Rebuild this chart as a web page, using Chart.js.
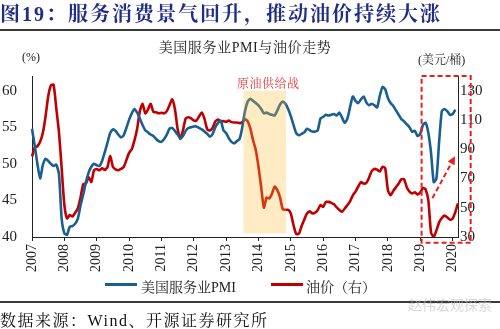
<!DOCTYPE html>
<html>
<head>
<meta charset="utf-8">
<script src="https://cdn.jsdelivr.net/npm/chart.js@4"></script>
<style>
  html, body { margin: 0; padding: 0; background: #fff; }
  #wrap { position: relative; width: 500px; height: 329px; overflow: hidden; }
  #chart { position: absolute; left: 0; top: 0; }
  .txt { position: absolute; white-space: nowrap; font-family: "Liberation Serif", "Noto Serif CJK SC", "Noto Sans CJK SC", serif; }
  #fig { left: 0; top: 2px; font-size: 20px; font-weight: bold; color: #1f2d86; line-height: 24px; letter-spacing: 2px; }
  .rule { position: absolute; left: 0; width: 500px; height: 2px; background: #3a3a3a; }
  #sub { left: 0; width: 490px; text-align: center; top: 36px; font-size: 14px; letter-spacing: 0.6px; color: #222; }
  #unitL { left: 22px; top: 50px; font-size: 12px; color: #222; }
  #unitR { left: 418px; top: 50px; font-size: 12px; color: #222; }
  #zone { left: 237px; top: 74px; font-size: 12px; color: #e8383d; letter-spacing: 0.5px; }
  .leg { top: 276px; font-size: 14px; color: #222; }
  .swatch { position: absolute; top: 283px; height: 3px; width: 32px; }
  #src { left: 0; top: 308px; font-size: 16px; letter-spacing: 1.5px; color: #111; }
  #mark { left: 408px; top: 294px; font-size: 14px; color: rgba(190,190,190,0.6); font-family: "Noto Sans CJK SC", sans-serif; }
</style>
</head>
<body>
<div id="wrap">
  <canvas id="chart" width="500" height="329"></canvas>
  <div class="txt" id="fig">图19：服务消费景气回升，推动油价持续大涨</div>
  <div class="rule" style="top:29px"></div>
  <div class="txt" id="sub">美国服务业PMI与油价走势</div>
  <div class="txt" id="unitL">(%)</div>
  <div class="txt" id="unitR">(美元/桶)</div>
  <div class="txt" id="zone">原油供给战</div>
  <div class="swatch" style="left:105px;background:#1a5f8f"></div>
  <div class="txt leg" style="left:141px">美国服务业PMI</div>
  <div class="swatch" style="left:271px;background:#c00000"></div>
  <div class="txt leg" style="left:306px">油价（右）</div>
  <div class="rule" style="top:301px"></div>
  <div class="txt" id="mark">赵伟宏观探索</div>
  <div class="txt" id="src">数据来源：Wind、开源证券研究所</div>
</div>
<script>
'use strict';

// monthly axis, first month labelled 2007
const START_YEAR = 2007;
const months = Array.from({ length: 159 }, (_, i) =>
  `${START_YEAR + Math.floor(i / 12)}-${String(i % 12 + 1).padStart(2, '0')}`);

const leftTicks = [40, 45, 50, 55, 60];
const rightTicks = [30, 50, 70, 90, 110, 130];

// US services PMI (%), left axis
const pmi = [
  54.8, 52.5, 50.0, 48.0, 49.8, 50.7, 50.4, 50.0, 49.7, 49.9, 48.6, 42.5,
  40.5, 40.3, 41.4, 41.5, 41.8, 42.5, 44.3, 45.8, 47.5, 48.8, 49.6, 50.0,
  49.8, 49.7, 50.4, 51.6, 52.9, 54.2, 54.7, 54.5, 54.0, 53.6, 53.9, 54.9,
  56.0, 56.9, 57.5, 57.0, 56.2, 55.3, 54.6, 54.3, 54.0, 53.8, 53.4, 53.1,
  53.0, 53.4, 54.0, 54.8, 54.9, 54.5, 54.0, 53.5, 53.8, 54.5, 54.9, 55.0,
  55.1, 55.1, 54.9, 54.7, 54.4, 54.1, 53.7, 54.1, 55.0, 55.6, 55.9, 54.6,
  54.2, 53.5, 53.0, 52.8, 53.1, 53.4, 55.0, 57.2, 58.5, 58.9, 58.6, 58.3,
  58.0, 57.5, 56.9, 57.0, 56.8, 56.7, 56.6, 57.3, 58.1, 58.5, 58.2, 57.5,
  56.5, 55.3, 54.2, 53.9, 54.1, 54.3, 54.8, 54.6, 54.4, 54.4, 54.6, 56.2,
  56.4, 56.7, 56.6, 56.7, 56.8, 56.6, 57.0, 56.3, 55.6, 56.2, 57.8, 59.2,
  58.6, 58.3, 58.8, 59.2, 58.4, 58.0, 58.2, 58.0, 57.7, 59.3, 60.5, 60.2,
  59.0, 58.3, 57.9, 57.3, 56.7, 56.1, 55.8, 55.4, 55.0, 54.4, 54.5, 53.8,
  54.1, 55.3, 55.6, 54.2, 51.5, 47.5, 48.0, 53.0, 57.2, 57.5, 57.2, 56.7,
  56.8, 57.4,
];

// oil price (USD/bbl), right axis
const oil = [
  85, 91, 92, 95, 101, 112, 126, 133.5, 134, 118, 101.6, 77,
  52, 42.7, 45, 44, 46.5, 49.5, 57, 66, 66.5, 71, 67.6, 75.6,
  76.5, 75.6, 77, 75.8, 77.8, 85.5, 78, 76.2, 75.6, 76.5, 77.8, 82.5,
  87.5, 90, 96, 104, 116, 121, 114.5, 117, 121, 115.5, 115.2, 114.5,
  114.8, 114.5, 116, 120, 124, 117.5, 104, 97, 103, 111, 111.8, 111,
  109.6, 109.6, 112.5, 115, 110.5, 103.5, 102.8, 104.5, 109, 110.2, 108.8, 109.2,
  108.7, 109.5, 108.5, 108.2, 108.2, 107.8, 108.3, 110.5, 109, 104, 96, 89.5,
  78, 64, 50, 57, 56.4, 59.5, 64.5, 62, 57, 49, 48.6, 48.6,
  46, 38, 32, 32.3, 37.5, 42, 46, 47.5, 46.1, 46.6, 48.5, 51.8,
  50.6, 54, 54, 53.3, 52.3, 50.2, 48.5, 47.2, 49.5, 51.8, 54.5, 58.5,
  61, 64.5, 67.5, 66.5, 67, 70.5, 75, 76.5, 76, 74.8, 78, 77,
  62, 58.5, 61.5, 64, 66.5, 69.5, 69.5, 64, 61, 59.8, 60.6, 59,
  60.5, 63.5, 62.5, 55, 33, 30, 34.5, 40, 43, 44.6, 43.5, 41.8,
  42.5, 47, 53,
];

// supply-war band (month index range, PMI range)
const warBand = { from: 78.4, to: 94.2, low: 40.5, high: 60 };
// recent-months box and rebound arrow (month index, left/right axis units)
const recentBox = { from: 144.5, to: 162.7, low: 39.2, high: 62 };
const rebound = { from: [148.5, 56.5], to: [156.9, 85.1] };

const BLUE = '#1a5f8f';
const RED = '#c00000';
const serif = '"Liberation Serif", "Noto Serif CJK SC", "Noto Sans CJK SC", serif';

const overlay = {
  id: 'overlay',
  afterDatasetsDraw(chart) {
    const { ctx, scales: { x, y, y2 } } = chart;
    ctx.save();
    // translucent band laid over the lines
    ctx.fillStyle = 'rgba(255,190,60,0.3)';
    const bx = x.getPixelForValue(warBand.from), bx2 = x.getPixelForValue(warBand.to);
    const by = y.getPixelForValue(warBand.high), by2 = y.getPixelForValue(warBand.low);
    ctx.fillRect(bx, by, bx2 - bx, by2 - by);

    ctx.strokeStyle = '#ee1c1c';
    ctx.fillStyle = '#ee1c1c';
    ctx.lineWidth = 2;
    ctx.setLineDash([5, 3]);
    const rx = x.getPixelForValue(recentBox.from), rx2 = x.getPixelForValue(recentBox.to);
    const ry = y.getPixelForValue(recentBox.high), ry2 = y.getPixelForValue(recentBox.low);
    ctx.strokeRect(rx, ry, rx2 - rx, ry2 - ry);

    const ax = x.getPixelForValue(rebound.from[0]), ay = y2.getPixelForValue(rebound.from[1]);
    const tx = x.getPixelForValue(rebound.to[0]), ty = y2.getPixelForValue(rebound.to[1]);
    const ang = Math.atan2(ty - ay, tx - ax);
    const head = 9;
    ctx.beginPath();
    ctx.moveTo(ax, ay);
    ctx.lineTo(tx - head * Math.cos(ang), ty - head * Math.sin(ang));
    ctx.stroke();
    ctx.setLineDash([]);
    ctx.beginPath();
    ctx.moveTo(tx, ty);
    ctx.lineTo(tx - head * Math.cos(ang - 0.45), ty - head * Math.sin(ang - 0.45));
    ctx.lineTo(tx - head * Math.cos(ang + 0.45), ty - head * Math.sin(ang + 0.45));
    ctx.closePath();
    ctx.fill();
    ctx.restore();
  },
};

new Chart(document.getElementById('chart'), {
  type: 'line',
  data: {
    labels: months,
    datasets: [
      { label: '美国服务业PMI', data: pmi, yAxisID: 'y', borderColor: BLUE, borderWidth: 2.6,
        pointRadius: 0, tension: 0.2, fill: false },
      { label: '油价（右）', data: oil, yAxisID: 'y2', borderColor: RED, borderWidth: 2.6,
        pointRadius: 0, tension: 0.2, fill: false },
    ],
  },
  options: {
    responsive: false,
    animation: false,
    events: [],
    layout: { padding: { left: 0, right: 0, top: 76, bottom: 52 } },
    plugins: { legend: { display: false }, tooltip: { enabled: false } },
    scales: {
      x: {
        type: 'category',
        offset: false,
        afterFit: (s) => { s.height = 40; },
        grid: { drawOnChartArea: false, tickLength: 4, tickColor: '#222' },
        border: { color: '#222', width: 1 },
        ticks: {
          autoSkip: false, maxRotation: 90, minRotation: 90, padding: 3,
          color: '#222', font: { family: serif, size: 14 },
          callback(v, i) { return i % 12 === 0 ? String(START_YEAR + i / 12) : null; },
        },
      },
      y: {
        position: 'left', min: 40, max: 62,
        afterFit: (s) => { s.width = 32; },
        afterBuildTicks: (s) => { s.ticks = leftTicks.map((value) => ({ value })); },
        grid: { display: false, drawTicks: false },
        border: { color: '#222', width: 1 },
        ticks: { padding: 15, color: '#222', font: { family: serif, size: 15 } },
      },
      y2: {
        position: 'right', min: 30, max: 140,
        afterFit: (s) => { s.width = 42; },
        afterBuildTicks: (s) => { s.ticks = rightTicks.map((value) => ({ value })); },
        grid: { display: false, drawTicks: false },
        border: { color: '#222', width: 1 },
        ticks: { padding: 2, color: '#222', font: { family: serif, size: 15 } },
      },
    },
  },
  plugins: [overlay],
});
</script>
</body>
</html>
